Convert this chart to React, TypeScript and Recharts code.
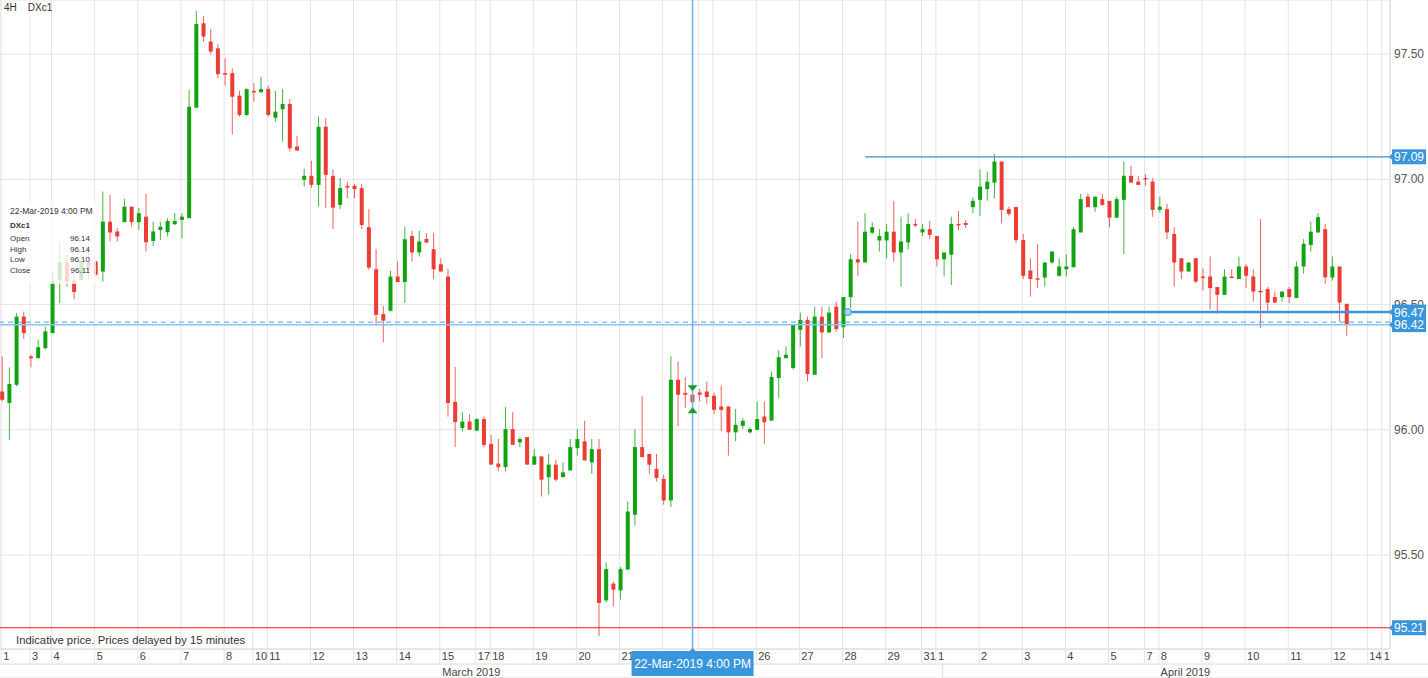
import React from 'react';
import {
  ComposedChart,
  Bar,
  XAxis,
  YAxis,
  CartesianGrid,
  ReferenceLine,
  ReferenceDot,
} from 'recharts';

// DXc1, 4H candles, 1 Mar - 12 Apr 2019
const opens = [
  96.153, 96.107, 96.18, 96.452, 96.293, 96.286, 96.326, 96.386, 96.599, 96.669,
  96.595, 96.599, 96.669, 96.672, 96.632, 96.831, 96.792, 96.829, 96.891, 96.829,
  96.851, 96.754, 96.798, 96.789, 96.821, 96.838, 96.845, 97.286, 97.623, 97.55,
  97.523, 97.424, 97.424, 97.334, 97.257, 97.353, 97.348, 97.361, 97.246, 97.28,
  97.301, 97.131, 96.998, 97.014, 96.978, 97.21, 97.014, 96.898, 96.974, 96.974,
  96.965, 96.809, 96.641, 96.462, 96.475, 96.612, 96.59, 96.774, 96.708, 96.762,
  96.721, 96.661, 96.612, 96.111, 96.007, 96.033, 95.997, 96.043, 95.944, 95.865,
  95.851, 96.003, 95.95, 95.971, 95.861, 95.894, 95.811, 95.861, 95.811, 95.838,
  95.927, 95.954, 95.87, 95.923, 95.319, 95.386, 95.359, 95.442, 95.661, 95.931,
  95.904, 95.844, 95.804, 95.718, 96.2, 96.147, 96.14, 96.149, 96.153, 96.136,
  96.093, 96.093, 95.99, 96.016, 95.99, 96.0, 96.053, 96.037, 96.207, 96.286,
  96.247, 96.399, 96.439, 96.22, 96.452, 96.389, 96.492, 96.41, 96.53, 96.681,
  96.668, 96.787, 96.756, 96.756, 96.791, 96.708, 96.748, 96.822, 96.788, 96.801,
  96.774, 96.681, 96.699, 96.822, 96.826, 96.889, 96.918, 96.961, 96.987, 97.071,
  96.881, 96.889, 96.758, 96.636, 96.605, 96.608, 96.668, 96.615, 96.641, 96.649,
  96.788, 96.931, 96.889, 96.921, 96.914, 96.847, 96.918, 97.014, 96.991, 97.005,
  96.991, 96.878, 96.881, 96.782, 96.685, 96.632, 96.685, 96.612, 96.612, 96.57,
  96.539, 96.612, 96.602, 96.652, 96.612, 96.555, 96.562, 96.53, 96.53, 96.562,
  96.526, 96.652, 96.738, 96.788, 96.801, 96.608, 96.652, 96.503,
];
const highs = [
  96.293, 96.249, 96.466, 96.472, 96.3, 96.36, 96.412, 96.632, 96.752, 96.699,
  96.619, 96.699, 96.74, 96.68, 96.951, 96.938, 96.805, 96.922, 96.891, 96.885,
  96.941, 96.831, 96.831, 96.845, 96.865, 96.865, 97.357, 97.672, 97.652, 97.6,
  97.539, 97.483, 97.443, 97.353, 97.364, 97.384, 97.41, 97.374, 97.353, 97.361,
  97.32, 97.173, 97.042, 97.074, 97.25, 97.244, 97.04, 97.005, 96.991, 96.982,
  96.982, 96.881, 96.721, 96.495, 96.635, 96.672, 96.811, 96.794, 96.794, 96.785,
  96.785, 96.685, 96.643, 96.251, 96.071, 96.063, 96.046, 96.053, 95.98, 95.963,
  96.091, 96.071, 95.97, 95.971, 95.923, 95.894, 95.904, 95.881, 95.87, 95.963,
  96.003, 96.036, 95.963, 95.963, 95.471, 95.395, 95.452, 95.714, 96.003, 96.136,
  95.904, 95.904, 95.821, 96.293, 96.273, 96.211, 96.14, 96.163, 96.193, 96.149,
  96.176, 96.093, 96.083, 96.047, 96.01, 96.113, 96.113, 96.233, 96.317, 96.333,
  96.419, 96.468, 96.452, 96.492, 96.492, 96.492, 96.512, 96.53, 96.702, 96.831,
  96.865, 96.828, 96.801, 96.822, 96.914, 96.851, 96.865, 96.841, 96.822, 96.834,
  96.774, 96.708, 96.851, 96.874, 96.838, 96.927, 97.04, 97.031, 97.101, 97.071,
  96.891, 96.891, 96.782, 96.685, 96.741, 96.668, 96.712, 96.685, 96.701, 96.811,
  96.942, 96.942, 96.931, 96.942, 96.914, 96.931, 97.071, 97.054, 97.014, 97.022,
  97.005, 96.931, 96.902, 96.809, 96.685, 96.668, 96.685, 96.645, 96.692, 96.57,
  96.641, 96.641, 96.692, 96.661, 96.641, 96.841, 96.57, 96.552, 96.552, 96.57,
  96.672, 96.761, 96.831, 96.865, 96.822, 96.692, 96.652, 96.503,
];
const lows = [
  96.113, 95.96, 96.173, 96.363, 96.249, 96.286, 96.32, 96.386, 96.506, 96.572,
  96.522, 96.599, 96.6, 96.61, 96.592, 96.752, 96.752, 96.829, 96.811, 96.798,
  96.712, 96.734, 96.758, 96.772, 96.818, 96.765, 96.845, 97.286, 97.55, 97.499,
  97.404, 97.374, 97.18, 97.25, 97.252, 97.31, 97.346, 97.25, 97.23, 97.151,
  97.111, 97.115, 96.971, 96.965, 96.891, 96.885, 96.802, 96.882, 96.925, 96.925,
  96.801, 96.639, 96.423, 96.349, 96.472, 96.59, 96.506, 96.672, 96.692, 96.745,
  96.602, 96.632, 96.053, 95.931, 95.994, 96.0, 95.994, 95.931, 95.861, 95.834,
  95.834, 95.94, 95.931, 95.861, 95.861, 95.734, 95.741, 95.794, 95.811, 95.838,
  95.897, 95.878, 95.825, 95.176, 95.311, 95.295, 95.322, 95.442, 95.617, 95.891,
  95.825, 95.794, 95.701, 95.692, 96.014, 96.087, 96.1, 96.113, 96.104, 96.064,
  95.994, 95.897, 95.954, 96.003, 95.985, 96.0, 95.944, 96.037, 96.127, 96.286,
  96.24, 96.333, 96.193, 96.22, 96.286, 96.386, 96.392, 96.366, 96.486, 96.615,
  96.668, 96.781, 96.712, 96.685, 96.672, 96.572, 96.721, 96.809, 96.774, 96.761,
  96.652, 96.612, 96.579, 96.796, 96.806, 96.865, 96.854, 96.915, 96.925, 96.825,
  96.854, 96.745, 96.602, 96.532, 96.566, 96.572, 96.663, 96.612, 96.612, 96.649,
  96.788, 96.889, 96.871, 96.894, 96.809, 96.847, 96.702, 96.987, 96.978, 96.974,
  96.851, 96.867, 96.761, 96.572, 96.602, 96.632, 96.585, 96.556, 96.482, 96.463,
  96.539, 96.608, 96.602, 96.566, 96.512, 96.406, 96.466, 96.508, 96.512, 96.506,
  96.526, 96.623, 96.712, 96.788, 96.583, 96.596, 96.432, 96.375,
];
const closes = [
  96.12, 96.183, 96.452, 96.386, 96.286, 96.33, 96.393, 96.595, 96.669, 96.592,
  96.55, 96.669, 96.64, 96.619, 96.831, 96.788, 96.772, 96.891, 96.829, 96.865,
  96.749, 96.792, 96.811, 96.834, 96.834, 96.851, 97.29, 97.62, 97.57, 97.51,
  97.42, 97.42, 97.33, 97.257, 97.36, 97.348, 97.36, 97.257, 97.27, 97.301,
  97.124, 97.115, 97.014, 96.978, 97.21, 97.018, 96.887, 96.965, 96.967, 96.961,
  96.818, 96.648, 96.459, 96.436, 96.612, 96.59, 96.761, 96.708, 96.752, 96.748,
  96.641, 96.632, 96.107, 96.031, 96.033, 96.0, 96.043, 95.94, 95.861, 95.851,
  96.003, 95.94, 95.963, 95.861, 95.894, 95.801, 95.861, 95.801, 95.83, 95.931,
  95.963, 95.878, 95.923, 95.309, 95.444, 95.362, 95.444, 95.674, 95.931, 95.891,
  95.861, 95.808, 95.718, 96.2, 96.14, 96.14, 96.11, 96.14, 96.131, 96.08,
  96.08, 95.99, 96.02, 96.036, 96.003, 96.043, 96.03, 96.211, 96.29, 96.3,
  96.419, 96.439, 96.223, 96.452, 96.389, 96.468, 96.402, 96.53, 96.681, 96.668,
  96.791, 96.809, 96.774, 96.791, 96.708, 96.752, 96.822, 96.818, 96.801, 96.778,
  96.681, 96.708, 96.822, 96.818, 96.818, 96.914, 96.971, 96.991, 97.071, 96.878,
  96.862, 96.758, 96.615, 96.602, 96.602, 96.668, 96.712, 96.652, 96.652, 96.801,
  96.921, 96.889, 96.931, 96.898, 96.847, 96.921, 97.014, 96.987, 96.978, 97.001,
  96.878, 96.891, 96.788, 96.668, 96.632, 96.668, 96.592, 96.608, 96.566, 96.539,
  96.612, 96.608, 96.652, 96.615, 96.552, 96.55, 96.508, 96.508, 96.552, 96.53,
  96.652, 96.743, 96.791, 96.849, 96.609, 96.652, 96.508, 96.42,
];

// first candle index of each trading day and its label
const dayStarts = [
  0, 4, 7, 13, 19, 25, 31, 35, 37, 43, 49, 55, 61, 66, 68, 74, 80, 86, 92, 97,
  99, 105, 111, 117, 123, 128, 130, 136, 142, 148, 154, 159, 161, 167, 173, 179,
  185, 190, 192,
];
const dayLabels = [
  '1', '3', '4', '5', '6', '7', '8', '10', '11', '12', '13', '14', '15', '17',
  '18', '19', '20', '21', '22', '24', '25', '26', '27', '28', '29', '31', '1',
  '2', '3', '4', '5', '7', '8', '9', '10', '11', '12', '14', '15',
];
const months = ['March 2019', 'April 2019'];
const aprilStart = 130;
const priceTicks = [95.5, 96, 96.5, 97, 97.5];

const resistance = 97.09;
const support = 96.47;
const lastPrice = 96.42;
const periodLow = 95.21;
const tagPrices = [resistance, support, lastPrice, periodLow];
const cursorIndex = 96;
const cursorLabel = '22-Mar-2019 4:00 PM';
const cursorOhlc = [
  ['Open', '96.14'],
  ['High', '96.14'],
  ['Low', '96.10'],
  ['Close', '96.11'],
];

const data = opens.map((o, i) => ({
  i,
  open: o,
  high: highs[i],
  low: lows[i],
  close: closes[i],
}));

const gridTicks = dayStarts.map((d) => d - 0.15);
const X_DOMAIN: [number, number] = [-0.32, 193];
const Y_DOMAIN: [number, number] = [95.125, 97.716];

const W = 1428;
const H = 678;
const PLOT_R = W - 38;
const PLOT_B = H - 29;

const GREEN = '#12a312';
const RED = '#ec3d35';
const BLUE = '#3a96dc';
const FONT = 'Arial, "Liberation Sans", sans-serif';

const Candle = (props: any) => {
  const { x, y, width, height, payload } = props;
  if (!payload) return null;
  const { open, close, high, low } = payload;
  const top = Math.min(y, y + height);
  const h = Math.abs(height);
  const cx = x + width / 2;
  const toY = (p: number) =>
    high === low ? top : top + ((high - p) / (high - low)) * h;
  const color = close >= open ? GREEN : RED;
  const bTop = toY(Math.max(open, close));
  const bBot = toY(Math.min(open, close));
  return (
    <g>
      <line x1={cx} x2={cx} y1={top} y2={top + h} stroke={color} strokeWidth={1} opacity={0.8} />
      <rect x={cx - 2} y={bTop} width={4} height={Math.max(bBot - bTop, 1.5)} fill={color} />
    </g>
  );
};

const DayTick = (props: any) => {
  const { x, y, payload } = props;
  const idx = gridTicks.indexOf(payload.value);
  // labels sitting under the cursor date tag are covered on the original
  if (Math.abs(payload.value - cursorIndex) < 8.5) return null;
  const id = `dclip${idx}`;
  return (
    <g>
      <clipPath id={id}>
        <rect x={0} y={y - 20} width={PLOT_R} height={30} />
      </clipPath>
      <text x={x + 2} y={y - 3} fontSize={11} fill="#444" fontFamily={FONT} clipPath={`url(#${id})`}>
        {dayLabels[idx]}
      </text>
    </g>
  );
};

const MonthTick = (props: any) => {
  const { x, y } = props;
  return (
    <g fontFamily={FONT} fontSize={11} fill="#444">
      <line x1={0} x2={W} y1={y - 14} y2={y - 14} stroke="#dcdcdc" />
      <line x1={0} x2={W} y1={y} y2={y} stroke="#dcdcdc" />
      <text x={x / 2} y={y - 2.5} textAnchor="middle">{months[0]}</text>
      <text x={(x + W) / 2} y={y - 2.5} textAnchor="middle">{months[1]}</text>
    </g>
  );
};

const PriceTick = (props: any) => {
  const { y, payload } = props;
  return (
    <text x={PLOT_R + 4} y={y + 4} fontSize={12} fill="#555" fontFamily={FONT}>
      {Number(payload.value).toFixed(2)}
    </text>
  );
};

const TagTick = (props: any) => {
  const { y, payload } = props;
  const cx = PLOT_R;
  return (
    <g>
      <path d={`M${cx - 1},${y} L${cx + 3},${y - 4} L${cx + 3},${y + 4} Z`} fill={BLUE} />
      <rect x={cx + 2} y={y - 7.5} width={34} height={15} fill={BLUE} />
      <text x={cx + 4} y={y + 4.5} fontSize={12} fill="#fff" fontFamily={FONT}>
        {Number(payload.value).toFixed(2)}
      </text>
    </g>
  );
};

const CursorTick = (props: any) => {
  const { x } = props;
  const top = PLOT_B + 2;
  return (
    <g>
      <path d={`M${x - 4},${top + 1} L${x},${top - 3} L${x + 4},${top + 1} Z`} fill={BLUE} />
      <rect x={x - 61} y={top} width={122} height={25} fill={BLUE} />
      <text x={x} y={top + 17} fontSize={12} fill="#fff" textAnchor="middle" fontFamily={FONT}>
        {cursorLabel}
      </text>
    </g>
  );
};

const Hourglass = (props: any) => {
  const { cx, cy } = props;
  return (
    <g fill="#1a9e2a">
      <path d={`M${cx - 5},${cy - 14} L${cx + 5},${cy - 14} L${cx},${cy - 8} Z`} />
      <path d={`M${cx - 5},${cy + 14} L${cx + 5},${cy + 14} L${cx},${cy + 8} Z`} />
    </g>
  );
};

const Anchor = (props: any) => {
  const { cx, cy } = props;
  return <circle cx={cx} cy={cy} r={3.5} fill="#a8d1f3" stroke={BLUE} strokeWidth={1} />;
};

export default function App() {
  return (
    <div style={{ position: 'absolute', left: 0, top: 0, width: W, height: H, fontFamily: FONT, background: '#fff' }}>
      <ComposedChart
        width={W}
        height={H}
        data={data}
        margin={{ top: 0, right: 0, bottom: 0, left: 0 }}
      >
        <CartesianGrid stroke="#e4e4e4" />
        <XAxis
          dataKey="i"
          type="number"
          domain={X_DOMAIN}
          allowDataOverflow
          ticks={gridTicks}
          interval={0}
          height={14}
          tickSize={14}
          tickMargin={0}
          tickLine={{ stroke: '#e4e4e4' }}
          axisLine={{ stroke: '#dcdcdc' }}
          tick={<DayTick />}
        />
        <XAxis
          xAxisId="month"
          dataKey="i"
          type="number"
          domain={X_DOMAIN}
          allowDataOverflow
          ticks={[aprilStart + 0.8]}
          height={14}
          tickSize={14}
          tickMargin={0}
          tickLine={{ stroke: '#dcdcdc' }}
          axisLine={false}
          tick={<MonthTick />}
        />
        <YAxis
          orientation="right"
          domain={Y_DOMAIN}
          allowDataOverflow
          ticks={priceTicks}
          width={37}
          tickSize={0}
          tickMargin={4}
          axisLine={false}
          tickLine={false}
          tick={<PriceTick />}
        />
        <ReferenceLine x={X_DOMAIN[1]} stroke="#dcdcdc" />
        <ReferenceLine y={periodLow} stroke="#ff1010" strokeWidth={1.1} />
        <ReferenceLine y={lastPrice + 0.01} stroke="#4ea3e6" strokeDasharray="5 4" />
        <ReferenceLine y={lastPrice} stroke="#8cc2ee" strokeWidth={1.5} />
        <ReferenceLine
          segment={[{ x: 120, y: resistance }, { x: X_DOMAIN[1], y: resistance }]}
          stroke="#3a8fd4"
          strokeWidth={1.2}
        />
        <ReferenceLine
          segment={[{ x: 117.6, y: support }, { x: X_DOMAIN[1], y: support }]}
          stroke={BLUE}
          strokeWidth={2.5}
        />
        <Bar
          dataKey={(d: any) => [d.low, d.high]}
          barSize={7}
          shape={<Candle />}
          isAnimationActive={false}
        />
        <ReferenceLine x={cursorIndex} stroke="#6eb1ea" strokeWidth={1.5} />
        <ReferenceDot x={cursorIndex} y={96.122} r={1} shape={<Hourglass />} />
        <ReferenceDot x={117.6} y={support} r={3} shape={<Anchor />} />
        <YAxis
          yAxisId="tags"
          orientation="right"
          domain={Y_DOMAIN}
          allowDataOverflow
          ticks={tagPrices}
          interval={0}
          width={1}
          tickSize={0}
          tickMargin={0}
          axisLine={false}
          tickLine={false}
          tick={<TagTick />}
        />
        <XAxis
          xAxisId="cursor"
          dataKey="i"
          type="number"
          domain={X_DOMAIN}
          allowDataOverflow
          ticks={[cursorIndex]}
          interval={0}
          height={1}
          tickSize={0}
          tickMargin={0}
          axisLine={false}
          tickLine={false}
          tick={<CursorTick />}
        />
      </ComposedChart>

      <div style={{ position: 'absolute', left: 4, top: 2, fontSize: 10, color: '#333' }}>
        4H<span style={{ marginLeft: 11 }}>DXc1</span>
      </div>

      <div
        style={{
          position: 'absolute',
          left: 8,
          top: 202,
          width: 88,
          height: 82,
          background: 'rgba(255,255,255,0.78)',
          fontSize: 8,
          color: '#333',
          lineHeight: '10.5px',
        }}
      >
        <div style={{ position: 'absolute', left: 2, top: 4, fontSize: 8.5 }}>{cursorLabel}</div>
        <div style={{ position: 'absolute', left: 2, top: 19, fontWeight: 'bold' }}>DXc1</div>
        {cursorOhlc.map(([k, v], n) => (
          <div key={k} style={{ position: 'absolute', left: 2, right: 6, top: 32 + n * 10.5, display: 'flex', justifyContent: 'space-between' }}>
            <span>{k}</span>
            <span>{v}</span>
          </div>
        ))}
      </div>

      <div style={{ position: 'absolute', left: 16, top: 634, fontSize: 11.3, color: '#333', whiteSpace: 'nowrap' }}>
        Indicative price. Prices delayed by 15 minutes
      </div>
    </div>
  );
}
